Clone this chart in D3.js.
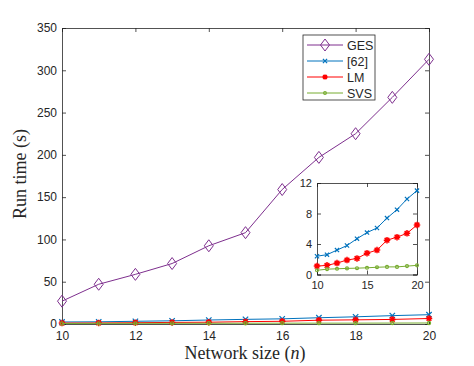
<!DOCTYPE html>
<html>
<head>
<meta charset="utf-8">
<script src="https://cdn.jsdelivr.net/npm/d3@7"></script>
<style>
  body { margin: 0; background: #fff; }
  svg text { font-family: "Liberation Sans", Arial, sans-serif; fill: #262626; }
  .lab { font-family: "Liberation Serif", "DejaVu Serif", serif; }
</style>
</head>
<body>
<div class="chart"></div>
<script>
// network sizes
var sizes = [10, 11, 12, 13, 14, 15, 16, 17, 18, 19, 20];

// run times in seconds
var ges = [27, 47, 58.7, 71.5, 92.5, 108, 159, 197, 225, 268, 313];
var ref62 = [2.4, 2.6, 3.2, 3.8, 4.7, 5.5, 6.1, 7.4, 8.5, 9.9, 11.0];
var lm = [1.1, 1.2, 1.5, 1.9, 2.1, 2.8, 3.2, 4.5, 4.9, 5.4, 6.5];
var svs = [0.55, 0.7, 0.75, 0.8, 0.83, 0.88, 0.95, 1.0, 1.0, 1.1, 1.2];

var xTicks = [10, 12, 14, 16, 18, 20];
var yTicks = [0, 50, 100, 150, 200, 250, 300, 350];
var insetXTicks = [10, 15, 20];
var insetYTicks = [0, 4, 8, 12];

var seriesNames = ["GES", "[62]", "LM", "SVS"];
var seriesData = [ges, ref62, lm, svs];
var colors = ["#7E2F8E", "#0072BD", "#FF0000", "#77AC30"];
var markers = ["diamond", "x", "star", "circle"];

var svgWidth = 474, svgHeight = 366;
var margin = {top: 28, right: 45, bottom: 42, left: 62};
var width = 429 - margin.left;
var height = 324 - margin.top;

var svg = d3.select(".chart").append("svg")
    .attr("width", svgWidth)
    .attr("height", svgHeight);

// draws one marker of a given kind at (x,y)
function drawMarker(g, kind, x, y, color, size) {
    if (kind == "diamond") {
        var s = size;
        g.append("path")
            .attr("d", `M${x},${y - s}L${x + s * 0.75},${y}L${x},${y + s}L${x - s * 0.75},${y}Z`)
            .attr("fill", "none").attr("stroke", color).attr("stroke-width", 1);
    } else if (kind == "x") {
        var s = size * 0.6;
        g.append("path")
            .attr("d", `M${x - s},${y - s}L${x + s},${y + s}M${x - s},${y + s}L${x + s},${y - s}`)
            .attr("stroke", color).attr("stroke-width", 1.2);
    } else if (kind == "star") {
        var s = size * 0.65;
        var d = `M${x - s},${y}L${x + s},${y}M${x},${y - s}L${x},${y + s}`;
        var t = s * 0.72;
        d += `M${x - t},${y - t}L${x + t},${y + t}M${x - t},${y + t}L${x + t},${y - t}`;
        g.append("path").attr("d", d).attr("stroke", color).attr("stroke-width", 1.5);
    } else {
        g.append("circle").attr("cx", x).attr("cy", y).attr("r", size * 0.45)
            .attr("fill", "none").attr("stroke", color).attr("stroke-width", 1.2);
    }
}

function drawPlot(g, w, h, xDomain, yDomain, xT, yT, fontSize, markerSizes, which) {
    var x = d3.scaleLinear().domain(xDomain).range([0, w]);
    var y = d3.scaleLinear().domain(yDomain).range([h, 0]);

    g.append("rect").attr("width", w).attr("height", h).attr("fill", "#fff");

    var bottomAxis = d3.axisBottom(x).tickValues(xT).tickSize(-4).tickPadding(7);
    var leftAxis = d3.axisLeft(y).tickValues(yT).tickSize(-4).tickPadding(5);
    var topAxis = d3.axisTop(x).tickValues(xT).tickSize(-4).tickFormat("");
    var rightAxis = d3.axisRight(y).tickValues(yT).tickSize(-4).tickFormat("");

    var axes = [
        g.append("g").attr("transform", `translate(0,${h})`).call(bottomAxis),
        g.append("g").call(leftAxis),
        g.append("g").call(topAxis),
        g.append("g").attr("transform", `translate(${w},0)`).call(rightAxis)
    ];
    axes.forEach(function(a) {
        a.selectAll("path,line").attr("stroke", "#262626").attr("stroke-width", 0.8);
        a.selectAll("text").style("font-size", fontSize + "px").attr("fill", "#262626");
    });

    var line = d3.line().x(function(d, i) { return x(sizes[i]); }).y(function(d) { return y(d); });

    which.forEach(function(k) {
        g.append("path").datum(seriesData[k])
            .attr("fill", "none").attr("stroke", colors[k]).attr("stroke-width", 1)
            .attr("d", line);
        seriesData[k].forEach(function(v, i) {
            drawMarker(g, markers[k], x(sizes[i]), y(v), colors[k], markerSizes[k]);
        });
    });
}

var chartGroup = svg.append("g").attr("transform", `translate(${margin.left}, ${margin.top})`);
drawPlot(chartGroup, width, height, [10, 20], [0, 350], xTicks, yTicks, 12, [6, 4.5, 5, 3.5], [0, 1, 2, 3]);

// legend
var legend = chartGroup.append("g").attr("transform", `translate(${303 - margin.left}, ${35 - margin.top})`);
legend.append("rect").attr("width", 72).attr("height", 65)
    .attr("fill", "#fff").attr("stroke", "#262626").attr("stroke-width", 0.8);
seriesNames.forEach(function(name, i) {
    var yy = 10 + i * 16;
    legend.append("line").attr("x1", 4).attr("x2", 40).attr("y1", yy).attr("y2", yy)
        .attr("stroke", colors[i]).attr("stroke-width", 1);
    drawMarker(legend, markers[i], 22, yy, colors[i], [6, 3.5, 4, 3][i]);
    legend.append("text").attr("x", 44).attr("y", yy + 4.5)
        .style("font-size", "12.5px").text(name);
});

// inset
var inset = svg.append("g").attr("transform", "translate(317, 183)");
drawPlot(inset, 100, 91.5, [10, 20], [0, 12], insetXTicks, insetYTicks, 11, [0, 3.5, 5, 3.2], [1, 2, 3]);

// axis labels
svg.append("text").attr("class", "lab")
    .attr("x", 245).attr("y", 359)
    .attr("text-anchor", "middle")
    .style("font-size", "18px")
    .html('Network size (<tspan font-style="italic">n</tspan>)');

svg.append("text").attr("class", "lab")
    .attr("transform", "translate(26,174) rotate(-90)")
    .attr("text-anchor", "middle")
    .style("font-size", "18px")
    .text("Run time (s)");
</script>
</body>
</html>
